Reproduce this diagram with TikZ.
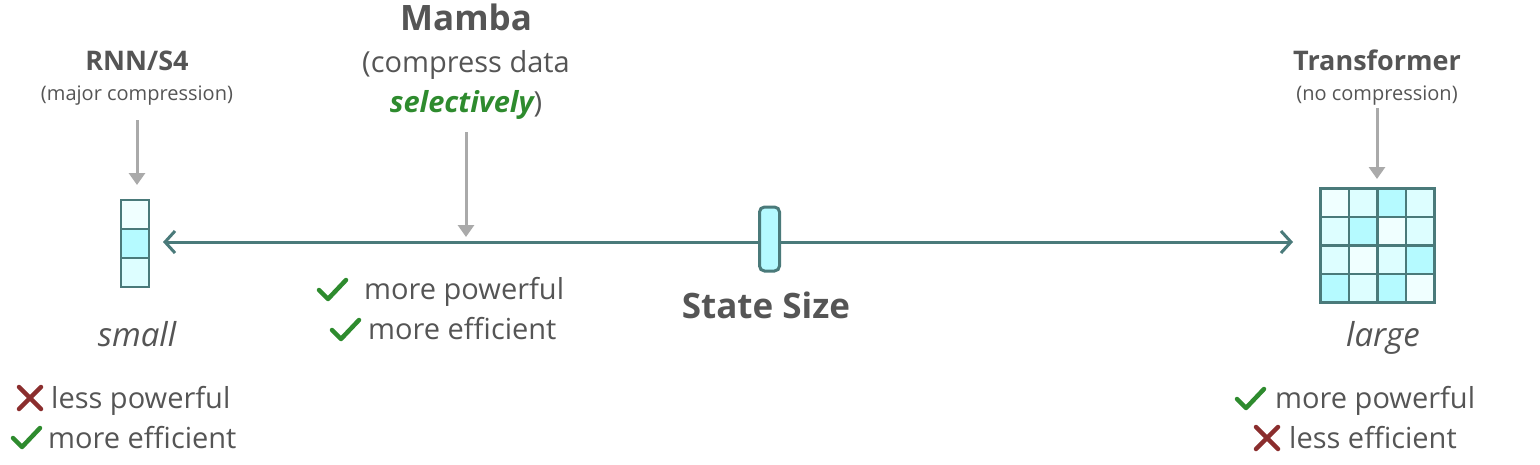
\documentclass[tikz,border=0pt]{standalone}
\usepackage{fontspec}
\setmainfont{Open Sans}
\usetikzlibrary{arrows.meta}
\definecolor{txt}{HTML}{555555}
\definecolor{teal}{HTML}{4A7A7A}
\definecolor{cL}{HTML}{F0FFFF}
\definecolor{cM}{HTML}{DDFEFF}
\definecolor{cD}{HTML}{B5FAFF}
\definecolor{grn}{HTML}{2E8B2E}
\definecolor{rd}{HTML}{8B2E2E}
\definecolor{gr}{HTML}{AAAAAA}
\tikzset{
 cell/.style={draw=teal,line width=2.5pt,minimum size=28.5pt,inner sep=0pt},
 gar/.style={draw=gr,line width=3pt,-{Triangle[length=12pt,width=16pt]}},
 lbl/.style={text=txt,inner sep=0pt,anchor=base},
 chk/.pic={\draw[grn,line width=4.5pt,line cap=round,line join=round] (0,-1)--(9,8)--(27,-11);},
 crs/.pic={\draw[rd,line width=4.5pt,line cap=round] (-11,11)--(11,-11) (-11,-11)--(11,11);}
}
\begin{document}
\begin{tikzpicture}[x=1pt,y=-1pt]
\useasboundingbox (0,0) rectangle (1540,464);
% vector
\node[cell,minimum width=28pt,minimum height=29pt,fill=cL] (v1) at (135,214.5) {};
\node[cell,minimum width=28pt,minimum height=29pt,fill=cD] (v2) at (135,243.5) {};
\node[cell,minimum width=28pt,minimum height=29pt,fill=cM] (v3) at (135,272.5) {};
% matrix
\foreach \r/\row in {0/{L,M,D,M},1/{M,D,L,M},2/{M,L,M,D},3/{D,M,D,L}}{
 \foreach \c [count=\i from 0] in \row {
  \node[cell,fill=c\c] (m\r\i) at ({1334.5+28.5*\i},{202.5+28.5*\r}) {};
 }}
% axis
\coordinate (L) at (163,242);
\coordinate (R) at (1293,242);
\draw[teal,line width=3pt,{Straight Barb[length=10pt,width=22pt]}-{Straight Barb[length=10pt,width=22pt]}] (L)--(R);
\node[draw=teal,fill=cD,line width=3pt,rounded corners=5pt,minimum width=20pt,minimum height=64pt,inner sep=0pt] (slider) at (769.5,239) {};
% top labels
\node[lbl,font=\bfseries\fontsize{27}{30}\selectfont] (rnn) at (137,70) {RNN/S4};
\node[lbl,font=\fontsize{20}{24}\selectfont] (rnnc) at (137,100) {(major compression)};
\node[lbl,font=\bfseries\fontsize{35}{40}\selectfont] (mamba) at (466,30) {Mamba};
\node[lbl,font=\fontsize{29}{34}\selectfont] (mc1) at (466,72) {(compress data};
\node[lbl,font=\fontsize{29}{34}\selectfont] (mc2) at (466,112) {\textcolor{grn}{\bfseries\itshape selectively})};
\node[lbl,font=\bfseries\fontsize{27}{30}\selectfont] (tr) at (1377,70) {Transformer};
\node[lbl,font=\fontsize{20}{24}\selectfont] (trc) at (1377,100) {(no compression)};
% gray arrows
\coordinate (a1) at (137,120); \coordinate (a1e) at (137,185);
\coordinate (a2) at (466,132); \coordinate (a2e) at (466,237);
\coordinate (a3) at (1377,108); \coordinate (a3e) at (1377,179);
\draw[gar] (a1)--(a1e);
\draw[gar] (a2)--(a2e);
\draw[gar] (a3)--(a3e);
% bottom labels
\node[lbl,font=\itshape\fontsize{33}{38}\selectfont] (small) at (137,346) {small};
\node[lbl,font=\itshape\fontsize{33}{38}\selectfont] (large) at (1383,346) {large};
\node[lbl,font=\bfseries\fontsize{35}{40}\selectfont] (ss) at (766,318) {State Size};
\node[lbl,font=\fontsize{29}{34}\selectfont,anchor=base west] (m1) at (364,299) {more powerful};
\node[lbl,font=\fontsize{29}{34}\selectfont,anchor=base west] (m2) at (368,339) {more efficient};
\pic at (319,291) {chk};
\pic at (332,331) {chk};
\node[lbl,font=\fontsize{29}{34}\selectfont,anchor=base west] (s1) at (51,408) {less powerful};
\node[lbl,font=\fontsize{29}{34}\selectfont,anchor=base west] (s2) at (48,448) {more efficient};
\pic at (30,398) {crs};
\pic at (13,439) {chk};
\node[lbl,font=\fontsize{29}{34}\selectfont,anchor=base west] (t1) at (1275,408) {more powerful};
\node[lbl,font=\fontsize{29}{34}\selectfont,anchor=base west] (t2) at (1289,448) {less efficient};
\pic at (1237,400) {chk};
\pic at (1267,438) {crs};
\end{tikzpicture}
\end{document}
